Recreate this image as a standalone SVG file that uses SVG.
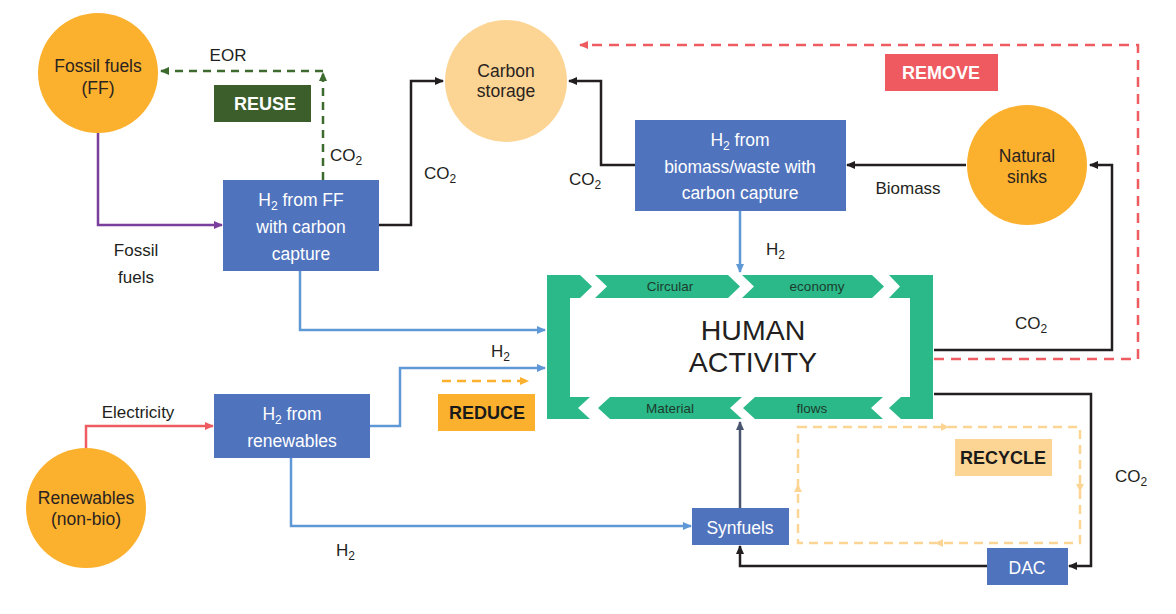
<svg xmlns="http://www.w3.org/2000/svg" width="1176" height="614" viewBox="0 0 1176 614">
<style>
.lbl{font-family:"Liberation Sans",Arial,sans-serif;font-size:17px;fill:#231f20}
.ctext{font-family:"Liberation Sans",Arial,sans-serif;font-size:17.5px;fill:#2a2320;text-anchor:middle}
.btext{font-family:"Liberation Sans",Arial,sans-serif;font-size:17.5px;fill:#ffffff;text-anchor:middle}
.tag{font-family:"Liberation Sans",Arial,sans-serif;font-size:18px;font-weight:bold;text-anchor:middle}
.band{font-family:"Liberation Sans",Arial,sans-serif;font-size:13.5px;fill:#1d3b2c;text-anchor:middle}
.box{fill:#4f73bd}
.circ{fill:#fbb12e}
.ln{fill:none;stroke-width:2.5}
.k{stroke:#231f20}
.b{stroke:#5f98d6}
.sub{font-size:12px}
</style>
<defs>
<marker id="ak" markerUnits="userSpaceOnUse" markerWidth="9" markerHeight="8" refX="8" refY="4" orient="auto"><path d="M0,0 L9,4 L0,8 z" fill="#231f20"/></marker>
<marker id="ab" markerUnits="userSpaceOnUse" markerWidth="9" markerHeight="8" refX="8" refY="4" orient="auto"><path d="M0,0 L9,4 L0,8 z" fill="#5f98d6"/></marker>
<marker id="ap" markerUnits="userSpaceOnUse" markerWidth="9" markerHeight="8" refX="8" refY="4" orient="auto"><path d="M0,0 L9,4 L0,8 z" fill="#7a3e9d"/></marker>
<marker id="ar" markerUnits="userSpaceOnUse" markerWidth="9" markerHeight="8" refX="8" refY="4" orient="auto"><path d="M0,0 L9,4 L0,8 z" fill="#ee5c61"/></marker>
<marker id="ag" markerUnits="userSpaceOnUse" markerWidth="9" markerHeight="8" refX="8" refY="4" orient="auto"><path d="M0,0 L9,4 L0,8 z" fill="#3d6a2f"/></marker>
<marker id="ao" markerUnits="userSpaceOnUse" markerWidth="9" markerHeight="8" refX="8" refY="4" orient="auto"><path d="M0,0 L9,4 L0,8 z" fill="#fbb12e"/></marker>
<marker id="as" markerUnits="userSpaceOnUse" markerWidth="9" markerHeight="8" refX="8" refY="4" orient="auto"><path d="M0,0 L9,4 L0,8 z" fill="#4a5570"/></marker>
</defs>
<rect width="1176" height="614" fill="#ffffff"/>

<g id="connectors">
<path class="ln" stroke="#7a3e9d" d="M98,133 V225 H222" marker-end="url(#ap)"/>
<path class="ln k" d="M379,225 H411 V81 H443" marker-end="url(#ak)"/>
<path class="ln k" d="M635,165 H601 V81 H569" marker-end="url(#ak)"/>
<path class="ln k" d="M966,165 H847" marker-end="url(#ak)"/>
<path class="ln k" d="M934,350 H1112 V165 H1090" marker-end="url(#ak)"/>
<path class="ln k" d="M934,394 H1091 V566 H1069" marker-end="url(#ak)"/>
<path class="ln k" d="M987,566 H740 V546" marker-end="url(#ak)"/>
<path class="ln b" d="M740,211 V272" marker-end="url(#ab)"/>
<path class="ln b" d="M300,271 V330 H545" marker-end="url(#ab)"/>
<path class="ln b" d="M370,426 H400 V368 H545" marker-end="url(#ab)"/>
<path class="ln b" d="M291,458 V526 H691" marker-end="url(#ab)"/>
<path class="ln" stroke="#4a5570" d="M740,508 V422" marker-end="url(#as)"/>
<path class="ln" stroke="#ee5c61" d="M86,449 V426 H213" marker-end="url(#ar)"/>
<path class="ln" stroke="#ee5c61" stroke-dasharray="10,7" d="M934,359 H1138 V45 H580" marker-end="url(#ar)"/>
<path class="ln" stroke="#3d6a2f" stroke-dasharray="8,6" d="M323,180 V73" marker-end="url(#ag)"/>
<path class="ln" stroke="#3d6a2f" stroke-dasharray="8,6" d="M323,71 H161" marker-end="url(#ag)"/>
<path class="ln" stroke="#fbb12e" stroke-dasharray="9,6" d="M442,381 H528" marker-end="url(#ao)"/>
<rect x="798" y="427" width="282" height="116" fill="none" stroke="#fcd594" stroke-width="2.5" stroke-dasharray="9,6"/>
<path d="M941,423 L949,427 L941,431 z M1076,484 L1080,492 L1084,484 z M943,539 L935,543 L943,547 z M794,492 L798,484 L802,492 z" fill="#fcd594"/>
</g>

<g id="labels">
<text class="lbl" x="228" y="61" text-anchor="middle">EOR</text>
<text class="lbl" x="330" y="161">CO<tspan class="sub" dy="4">2</tspan></text>
<text class="lbl" x="424" y="179">CO<tspan class="sub" dy="4">2</tspan></text>
<text class="lbl" x="569" y="185">CO<tspan class="sub" dy="4">2</tspan></text>
<text class="lbl" x="908" y="194" text-anchor="middle">Biomass</text>
<text class="lbl" x="766" y="255">H<tspan class="sub" dy="4">2</tspan></text>
<text class="lbl" x="1015" y="329">CO<tspan class="sub" dy="4">2</tspan></text>
<text class="lbl" x="1115" y="482">CO<tspan class="sub" dy="4">2</tspan></text>
<text class="lbl" x="491" y="357">H<tspan class="sub" dy="4">2</tspan></text>
<text class="lbl" x="336" y="556">H<tspan class="sub" dy="4">2</tspan></text>
<text class="lbl" x="138" y="418" text-anchor="middle">Electricity</text>
<text class="lbl" x="136" y="256" text-anchor="middle" font-size="18">Fossil</text>
<text class="lbl" x="136" y="283" text-anchor="middle" font-size="18">fuels</text>
</g>

<g id="reuse"><rect x="214" y="85" width="97" height="37" fill="#3b5e2b"/><text class="tag" x="265" y="110" fill="#ffffff">REUSE</text></g>
<g id="remove"><rect x="885" y="54" width="113" height="37" fill="#ee5a60"/><text class="tag" x="941" y="79" fill="#ffffff">REMOVE</text></g>
<g id="reduce"><rect x="438" y="394" width="97" height="37" fill="#fbb12e"/><text class="tag" x="487" y="419" fill="#1a1a1a">REDUCE</text></g>
<g id="recycle"><rect x="955" y="439" width="97" height="37" fill="#fcd594"/><text class="tag" x="1003" y="464" fill="#1a1a1a">RECYCLE</text></g>

<g id="fossil-fuels"><circle class="circ" cx="98" cy="73" r="60"/><text class="ctext" x="98" y="72">Fossil fuels</text><text class="ctext" x="98" y="94">(FF)</text></g>
<g id="carbon-storage"><circle cx="506" cy="81" r="61" fill="#fcd594"/><text class="ctext" x="506" y="77">Carbon</text><text class="ctext" x="506" y="97">storage</text></g>
<g id="natural-sinks"><circle class="circ" cx="1027" cy="165" r="60"/><text class="ctext" x="1027" y="162">Natural</text><text class="ctext" x="1027" y="183">sinks</text></g>
<g id="renewables"><circle class="circ" cx="86" cy="508" r="60"/><text class="ctext" x="86" y="504">Renewables</text><text class="ctext" x="86" y="525">(non-bio)</text></g>

<g id="h2-ff"><rect class="box" x="223" y="180" width="156" height="91"/><text class="btext" x="301" y="206">H<tspan class="sub" dy="4">2</tspan><tspan dy="-4"> from FF</tspan></text><text class="btext" x="301" y="233">with carbon</text><text class="btext" x="301" y="260">capture</text></g>
<g id="h2-biomass"><rect class="box" x="635" y="120" width="211" height="91"/><text class="btext" x="740" y="146">H<tspan class="sub" dy="4">2</tspan><tspan dy="-4"> from</tspan></text><text class="btext" x="740" y="173">biomass/waste with</text><text class="btext" x="740" y="199">carbon capture</text></g>
<g id="h2-renewables"><rect class="box" x="214" y="394" width="156" height="64"/><text class="btext" x="292" y="420">H<tspan class="sub" dy="4">2</tspan><tspan dy="-4"> from</tspan></text><text class="btext" x="292" y="447">renewables</text></g>
<g id="synfuels"><rect class="box" x="692" y="508" width="97" height="37"/><text class="btext" x="740" y="534">Synfuels</text></g>
<g id="dac"><rect class="box" x="987" y="548" width="81" height="37"/><text class="btext" x="1027" y="574">DAC</text></g>

<g id="human-activity">
<g fill="#2bb98a">
<polygon points="547,275 580,275 592,286.5 580,298 570,298 570,397 590,397 578,408 590,419 547,419"/>
<polygon points="889,275 933,275 933,419 901,419 889,408 901,397 910,397 910,298 889,298 900,286.5"/>
<polygon points="595,275 728,275 740,286.5 728,298 595,298 607,286.5"/>
<polygon points="742,275 872,275 884,286.5 872,298 742,298 754,286.5"/>
<polygon points="610,397 742,397 730,408 742,419 610,419 598,408"/>
<polygon points="755,397 883,397 871,408 883,419 755,419 743,408"/>
</g>
<text class="band" x="670" y="291">Circular</text>
<text class="band" x="817" y="291">economy</text>
<text class="band" x="670" y="413">Material</text>
<text class="band" x="812" y="413">flows</text>
<text x="753" y="340" font-family="Liberation Sans,Arial,sans-serif" font-size="28.5" fill="#231f20" text-anchor="middle">HUMAN</text>
<text x="753" y="372" font-family="Liberation Sans,Arial,sans-serif" font-size="28.5" fill="#231f20" text-anchor="middle">ACTIVITY</text>
</g>
</svg>
